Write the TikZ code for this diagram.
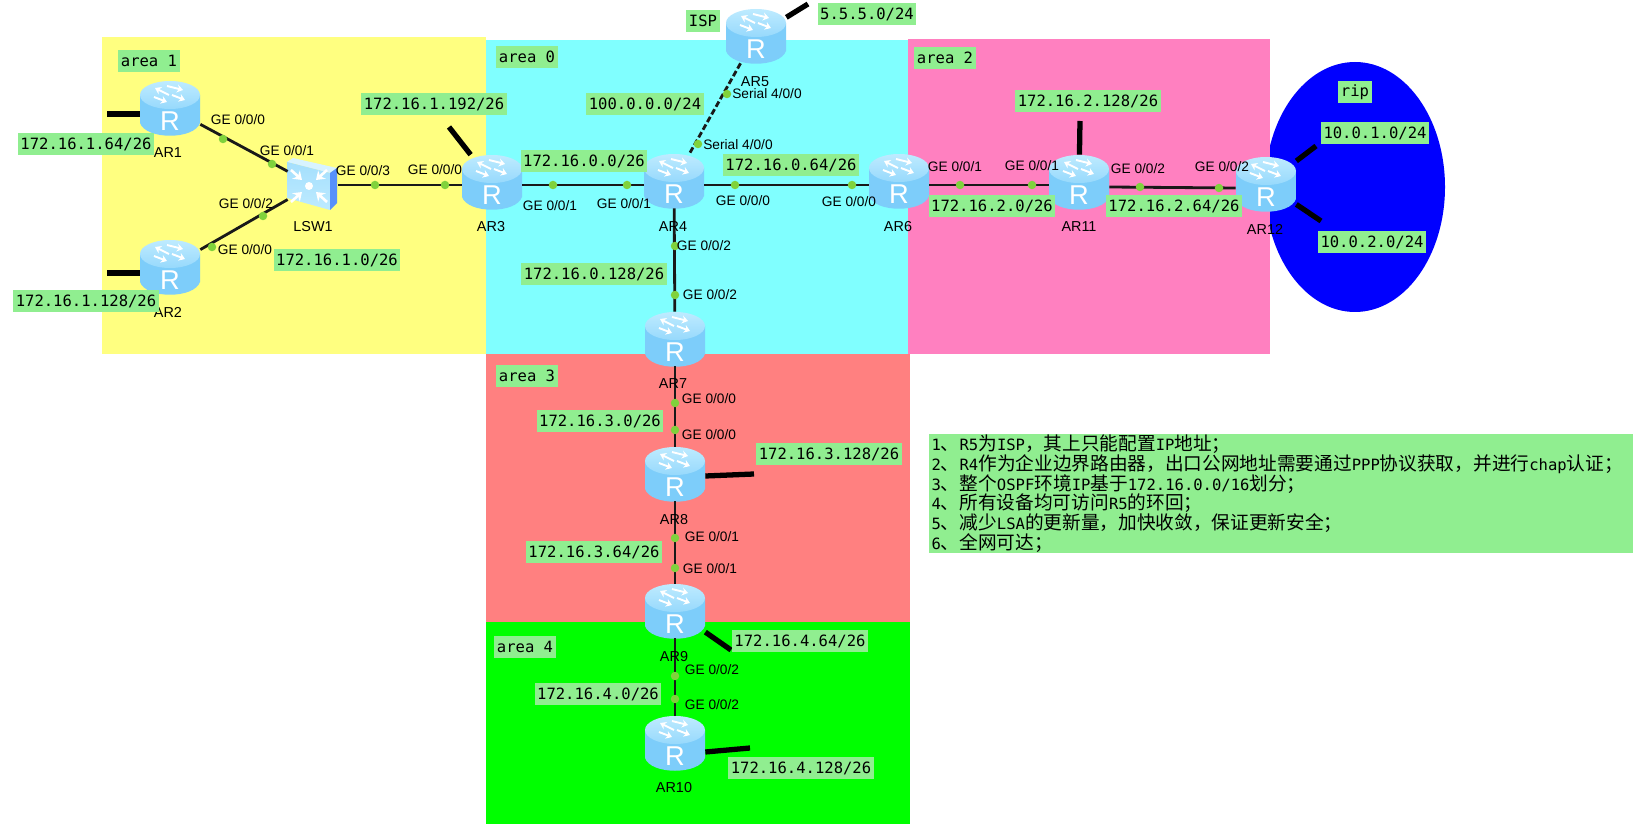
\documentclass[tikz,border=0pt]{standalone}
\usepackage{fontspec}
\setmainfont{Liberation Sans}
\newfontfamily\netfont{DejaVu Sans Mono}
\newfontfamily\cjk{Noto Sans CJK SC}
\usepackage{xcolor}
\definecolor{ColA1}{RGB}{255,255,128}
\definecolor{ColA0}{RGB}{128,255,255}
\definecolor{ColA2}{RGB}{255,128,192}
\definecolor{ColA3}{RGB}{255,128,128}
\definecolor{ColA4}{RGB}{0,255,0}
\definecolor{ColRip}{RGB}{0,0,255}
\definecolor{ColTag}{RGB}{144,238,144}
\definecolor{ColDot}{RGB}{128,210,60}
\definecolor{ColIce}{RGB}{190,235,255}
\definecolor{ColSky}{RGB}{125,205,250}
\usetikzlibrary{arrows.meta}
\tikzstyle{Router}=[rectangle,inner sep=0pt,minimum width=1.2cm,minimum height=1.08cm,
text height=.92cm,text=white,font=\fontsize{15.5pt}{16pt}\selectfont]
\tikzstyle{RouterBody}=[left color=ColSky,middle color=ColIce!80!ColSky,right color=ColSky]
\tikzstyle{RouterTop}=[top color=ColIce,bottom color=ColSky!60!ColIce]
\tikzstyle{RouterArrow}=[draw=white,line width=1.1pt,-{Stealth[length=3.4pt,width=4.6pt]}]
\tikzstyle{SwitchArrow}=[draw=white,line width=1.5pt,-{Stealth[length=4.6pt,width=6.4pt]}]
\tikzstyle{SwitchNode}=[rectangle,inner sep=0pt,minimum width=1cm,minimum height=1cm]
\tikzstyle{Link}=[draw=black!90,line width=1.6pt]
\tikzstyle{Serial}=[Link,dash pattern=on 3.4pt off 1.6pt]
\tikzstyle{Stub}=[draw=black,line width=3pt]
\tikzstyle{Port}=[circle,fill=ColDot,inner sep=0pt,minimum size=.17cm]
\tikzstyle{PortTag}=[inner sep=0pt,font=\fontsize{7.8pt}{8pt}\selectfont]
\tikzstyle{RouterTag}=[inner sep=0pt,font=\fontsize{8.2pt}{9pt}\selectfont]
\tikzstyle{NetTag}=[fill=ColTag,inner xsep=.05cm,inner ysep=0pt,minimum height=.43cm,
font=\netfont\fontsize{8.85pt}{10pt}\selectfont]
\newcommand{\Zh}[1]{{\fontsize{10.63pt}{11pt}\cjk #1}}
\newcommand{\RouterIcon}[2]{%
  \begin{scope}[shift={(#2)}]
    \shade[RouterBody](-30,-13)--(-30,15)..controls(-24,32)and(24,32)..(30,15)--(30,-13)--cycle;
    \shade[RouterTop](0,-13)ellipse[x radius=30,y radius=14];
    \draw[RouterArrow](-1,-13)--(-15,-20);
    \draw[RouterArrow](-16,-11)--(-3,-6);
    \draw[RouterArrow](2,-13)--(15,-8);
    \draw[RouterArrow](-3,-22)--(13,-18);
  \end{scope}
  \node[Router](#1)at(#2){R};
}
\newcommand{\SwitchIcon}[2]{%
  \begin{scope}[shift={(#2)}]
    \fill[ColIce!60!white](-26,-23)--(-20,-27)--(24,-17)--(17,-12)--cycle;
    \shade[top color=ColIce!60!ColSky,bottom color=ColIce](-26,-23)--(17,-12)--(17,25)--(-26,13)--cycle;
    \fill[blue!30!ColSky](17,-12)--(24,-17)--(24,18)--(17,25)--cycle;
    \fill[white](-4,1)circle[radius=4];
    \foreach \ax/\ay in {-1/-1,1/-1,-1/1,1/1}
      \draw[SwitchArrow](-4+18*\ax,1+16*\ay)--(-4+7*\ax,1+6*\ay);
  \end{scope}
  \node[SwitchNode](#1)at(#2){};
}
\begin{document}
\begin{tikzpicture}[x=.02cm,y=-.02cm]
  \useasboundingbox(0,0)rectangle(1637,834);
  \fill[ColRip](1355,187)ellipse[x radius=90,y radius=125];
  \fill[ColA1](102,37)rectangle(486,354);
  \fill[ColA2](908,39)rectangle(1270,354);
  \fill[ColA3](486,354)rectangle(910,622);
  \fill[ColA4](486,622)rectangle(910,824);
  \fill[ColA0](486,40)rectangle(908,354);
  \RouterIcon{AR1}{170,108}
  \RouterIcon{AR2}{170,267}
  \RouterIcon{AR3}{492,182}
  \RouterIcon{AR4}{674,181}
  \RouterIcon{AR5}{756,36}
  \RouterIcon{AR6}{899,181}
  \RouterIcon{AR7}{675,339}
  \RouterIcon{AR8}{675,474}
  \RouterIcon{AR9}{675,611}
  \RouterIcon{AR10}{675,743}
  \RouterIcon{AR11}{1079,182}
  \RouterIcon{AR12}{1266,184}
  \SwitchIcon{LSW1}{313,185}
  \draw[Link](AR1)--(LSW1);
  \draw[Link](AR2)--(LSW1);
  \draw[Link](LSW1.east)--(LSW1.east-|AR3.west);
  \draw[Link]([yshift=-.06cm]AR3.east)--([yshift=-.06cm]AR3.east-|AR4.west);
  \draw[Link]([yshift=-.08cm]AR4.east)--([yshift=-.08cm]AR4.east-|AR6.west);
  \draw[Link]([yshift=-.08cm]AR6.east)--([yshift=-.08cm]AR6.east-|AR11.west);
  \draw[Link]([yshift=-.1cm]AR11.east)--([yshift=-.08cm]AR12.west);
  \draw[Serial](AR5)--(AR4);
  \draw[Link](AR4)--(AR7);
  \draw[Link](AR7)--(AR8);
  \draw[Link](AR8)--(AR9);
  \draw[Link](AR9)--(AR10);
  \coordinate(s1)at(107,114);
  \coordinate(s2)at(107,273);
  \coordinate(s3)at(449,127);
  \coordinate(s5)at(808,4);
  \coordinate(s8)at(754,474);
  \coordinate(s9)at(731,650);
  \coordinate(s10)at(750,748);
  \coordinate(s11)at(1080,121);
  \coordinate(s12)at(1316,146);
  \coordinate(s13)at(1321,221);
  \draw[Stub](s1)--(s1-|AR1.west);
  \draw[Stub](s2)--(s2-|AR2.west);
  \draw[Stub](s3)--(AR3);
  \draw[Stub](s5)--(AR5);
  \draw[Stub](s8)--([yshift=-.04cm]AR8.east);
  \draw[Stub](s9)--(AR9);
  \draw[Stub](s10)--([yshift=-.18cm]AR10.east);
  \draw[Stub](s11)--(AR11);
  \draw[Stub](s12)--(AR12);
  \draw[Stub](s13)--(AR12);
  \node[Port](d1)at(223,139){};
  \node[Port](d2)at(272,164){};
  \node[Port](d3)at(263,216){};
  \node[Port](d4)at(212,247){};
  \node[Port](d5)at(375,185){};
  \node[Port](d6)at(445,185){};
  \node[Port](d7)at(553,185){};
  \node[Port](d8)at(627,185){};
  \node[Port](d9)at(735,185){};
  \node[Port](d10)at(852,185){};
  \node[Port](d11)at(960,185){};
  \node[Port](d12)at(1032,185){};
  \node[Port](d13)at(1140,187){};
  \node[Port](d14)at(1219,188){};
  \node[Port](d15)at(727,94){};
  \node[Port](d16)at(698,144){};
  \node[Port](d17)at(675,246){};
  \node[Port](d18)at(675,295){};
  \node[Port](d19)at(675,403){};
  \node[Port](d20)at(675,430){};
  \node[Port](d21)at(675,538){};
  \node[Port](d22)at(675,568){};
  \node[Port](d23)at(675,676){};
  \node[Port](d24)at(675,699){};
  \node[RouterTag](l1)at(168,153){AR1};
  \node[RouterTag](l2)at(168,312){AR2};
  \node[RouterTag](l3)at(491,227){AR3};
  \node[RouterTag](l4)at(673,227){AR4};
  \node[RouterTag](l5)at(755,82){AR5};
  \node[RouterTag](l6)at(898,227){AR6};
  \node[RouterTag](l7)at(673,384){AR7};
  \node[RouterTag](l8)at(674,520){AR8};
  \node[RouterTag](l9)at(674,657){AR9};
  \node[RouterTag](l10)at(674,788){AR10};
  \node[RouterTag](l11)at(1079,227){AR11};
  \node[RouterTag](l12)at(1265,229){AR12};
  \node[RouterTag](l13)at(313,227){LSW1};
  \node[PortTag](g1)at(238,120){GE 0/0/0};
  \node[PortTag](g2)at(287,151){GE 0/0/1};
  \node[PortTag](g3)at(246,204){GE 0/0/2};
  \node[PortTag](g4)at(245,250){GE 0/0/0};
  \node[PortTag](g5)at(363,171){GE 0/0/3};
  \node[PortTag](g6)at(435,170){GE 0/0/0};
  \node[PortTag](g7)at(550,206){GE 0/0/1};
  \node[PortTag](g8)at(624,204){GE 0/0/1};
  \node[PortTag](g9)at(743,201){GE 0/0/0};
  \node[PortTag](g10)at(849,202){GE 0/0/0};
  \node[PortTag](g11)at(955,167){GE 0/0/1};
  \node[PortTag](g12)at(1032,166){GE 0/0/1};
  \node[PortTag](g13)at(1138,169){GE 0/0/2};
  \node[PortTag](g14)at(1222,167){GE 0/0/2};
  \node[PortTag](g15)at(767,94){Serial 4/0/0};
  \node[PortTag](g16)at(738,145){Serial 4/0/0};
  \node[PortTag](g17)at(704,246){GE 0/0/2};
  \node[PortTag](g18)at(710,295){GE 0/0/2};
  \node[PortTag](g19)at(709,399){GE 0/0/0};
  \node[PortTag](g20)at(709,435){GE 0/0/0};
  \node[PortTag](g21)at(712,537){GE 0/0/1};
  \node[PortTag](g22)at(710,569){GE 0/0/1};
  \node[PortTag](g23)at(712,670){GE 0/0/2};
  \node[PortTag](g24)at(712,705){GE 0/0/2};
  \node[NetTag](a1)at(149,61){area 1};
  \node[NetTag](a0)at(527,57){area 0};
  \node[NetTag](a2)at(945,58){area 2};
  \node[NetTag](a3)at(527,376){area 3};
  \node[NetTag](a4)at(525,647){area 4};
  \node[NetTag](isp)at(703,21){ISP};
  \node[NetTag](rip)at(1355,92){rip};
  \node[NetTag](n1)at(86,144){172.16.1.64/26};
  \node[NetTag](n2)at(86,301){172.16.1.128/26};
  \node[NetTag](n3)at(337,260){172.16.1.0/26};
  \node[NetTag](n4)at(434,104){172.16.1.192/26};
  \node[NetTag](n5)at(584,161){172.16.0.0/26};
  \node[NetTag](n6)at(594,274){172.16.0.128/26};
  \node[NetTag](n7)at(645,104){100.0.0.0/24};
  \node[NetTag](n8)at(867,14){5.5.5.0/24};
  \node[NetTag](n9)at(791,165){172.16.0.64/26};
  \node[NetTag](n10)at(992,206){172.16.2.0/26};
  \node[NetTag](n11)at(1088,101){172.16.2.128/26};
  \node[NetTag](n12)at(1174,206){172.16.2.64/26};
  \node[NetTag](n13)at(1375,133){10.0.1.0/24};
  \node[NetTag](n14)at(1372,242){10.0.2.0/24};
  \node[NetTag](n15)at(600,421){172.16.3.0/26};
  \node[NetTag](n16)at(829,454){172.16.3.128/26};
  \node[NetTag](n17)at(594,552){172.16.3.64/26};
  \node[NetTag](n18)at(800,641){172.16.4.64/26};
  \node[NetTag](n19)at(598,694){172.16.4.0/26};
  \node[NetTag](n20)at(801,768){172.16.4.128/26};
  \node[fill=ColTag,inner xsep=.05cm,inner ysep=0pt,minimum height=2.38cm,text width=13.98cm,align=left,
    font=\netfont\fontsize{8.85pt}{11.2pt}\selectfont](notes)at(1281,493.5){%
    1\Zh{、}R5\Zh{为}ISP\Zh{，其上只能配置}IP\Zh{地址；}\\
    2\Zh{、}R4\Zh{作为企业边界路由器，出口公网地址需要通过}PPP\Zh{协议获取，并进行}chap\Zh{认证；}\\
    3\Zh{、整个}OSPF\Zh{环境}IP\Zh{基于}172.16.0.0/16\Zh{划分；}\\
    4\Zh{、所有设备均可访问}R5\Zh{的环回；}\\
    5\Zh{、减少}LSA\Zh{的更新量，加快收敛，保证更新安全；}\\
    6\Zh{、全网可达；}};
\end{tikzpicture}
\end{document}
